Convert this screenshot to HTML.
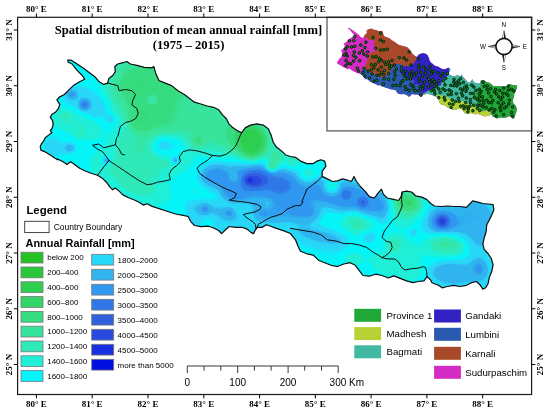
<!DOCTYPE html>
<html lang="en"><head><meta charset="utf-8"><title>Spatial distribution of mean annual rainfall</title>
<style>
html,body{margin:0;padding:0;background:#fff;}
body{width:550px;height:413px;overflow:hidden;}
svg{display:block;}
.ser{font-family:"Liberation Serif","Times New Roman",serif;font-weight:bold;fill:#000;}
.san{font-family:"Liberation Sans",Arial,sans-serif;fill:#000;}
.b{font-weight:bold;}
</style></head><body>
<svg width="550" height="413" viewBox="0 0 550 413">
<defs>
<path id="np" d="M67.7,60.2 L71.2,60.2 L77.1,64.0 L83.5,68.3 L89.8,72.9 L94.9,76.7 L99.2,81.8 L103.8,84.4 L107.6,83.1 L108.9,78.5 L112.7,75.5 L115.3,71.6 L114.8,66.5 L117.8,64.0 L122.9,62.7 L126.7,61.5 L130.5,64.0 L136.9,65.3 L144.5,67.3 L152.2,67.8 L153.8,66.5 L155.6,72.9 L158.9,80.5 L165.3,83.1 L171.6,85.6 L178.0,90.7 L184.4,94.5 L189.5,98.4 L194.5,102.2 L200.9,104.0 L207.3,106.0 L213.6,107.3 L218.7,109.8 L222.5,114.9 L226.4,118.7 L228.9,123.8 L232.7,127.6 L237.8,130.9 L241.6,132.7 L245.5,127.6 L250.5,125.1 L256.9,123.8 L263.3,125.1 L268.4,128.9 L271.3,135.6 L273.1,142.0 L276.4,147.1 L281.5,150.9 L285.3,154.7 L290.4,156.5 L295.5,157.3 L300.5,161.1 L306.9,163.6 L313.3,163.6 L317.1,161.1 L320.9,159.8 L324.7,161.1 L326.0,166.2 L322.2,171.3 L322.2,176.4 L327.3,178.9 L332.4,181.5 L337.5,180.9 L342.5,178.9 L347.6,180.2 L351.5,181.5 L354.0,176.4 L356.5,181.5 L360.4,186.5 L365.5,191.6 L369.3,196.7 L374.4,198.0 L378.2,192.9 L381.5,189.1 L383.3,194.2 L387.1,198.0 L393.5,199.3 L398.5,200.5 L401.1,196.7 L402.2,192.0 L406.5,191.2 L411.6,192.0 L415.5,195.8 L421.8,197.1 L426.9,199.6 L430.7,203.5 L434.5,206.0 L440.9,206.5 L447.3,206.0 L453.6,206.5 L460.0,206.5 L466.4,207.3 L470.2,203.5 L472.7,200.9 L477.8,202.2 L482.9,203.5 L488.0,204.0 L493.1,204.7 L493.9,209.8 L491.8,214.9 L489.3,220.0 L486.7,225.1 L486.2,231.5 L484.2,237.8 L482.9,244.2 L484.2,249.3 L488.0,253.5 L491.3,258.5 L493.1,264.9 L491.8,271.3 L489.3,277.6 L488.0,284.0 L485.5,287.8 L482.9,289.1 L480.4,285.3 L476.5,281.5 L471.5,282.7 L466.4,285.3 L460.0,286.5 L453.6,285.3 L447.3,286.5 L442.2,287.8 L438.4,285.3 L432.0,282.7 L430.5,279.9 L427.0,276.7 L424.0,280.9 L418.0,281.5 L412.9,282.7 L406.5,280.9 L400.2,278.4 L393.8,275.9 L388.4,278.0 L382.0,275.5 L375.6,274.2 L369.3,276.2 L362.9,275.5 L359.1,270.4 L355.3,265.3 L350.2,262.7 L343.8,264.0 L337.5,266.5 L331.1,265.3 L324.7,262.7 L318.4,260.2 L313.3,255.1 L306.9,253.8 L300.5,251.3 L298.0,246.2 L295.5,239.8 L290.4,233.5 L284.0,230.9 L276.4,228.4 L270.0,226.0 L266.2,224.7 L262.4,227.3 L257.3,227.3 L255.5,229.8 L253.5,233.6 L250.9,232.4 L247.1,229.1 L242.0,227.3 L235.6,227.3 L229.3,226.5 L225.5,229.8 L221.6,233.6 L218.7,230.5 L213.6,228.0 L208.5,226.2 L200.9,226.7 L194.5,225.5 L190.7,221.6 L188.2,216.5 L183.1,215.3 L175.5,214.0 L167.8,211.5 L152.2,206.4 L147.1,203.8 L143.3,205.1 L139.5,202.5 L134.4,200.0 L128.0,197.5 L122.9,194.9 L119.1,191.1 L115.3,188.0 L112.7,189.8 L110.2,187.3 L106.4,182.2 L102.5,178.4 L97.5,175.3 L91.1,173.3 L84.7,170.7 L79.6,168.2 L74.5,164.4 L70.7,161.8 L66.9,164.4 L63.1,161.8 L57.5,159.0 L57.6,159.8 L54.7,158.1 L51.8,155.9 L48.2,153.7 L44.5,151.6 L40.9,150.1 L40.2,146.5 L41.6,143.6 L43.8,140.7 L45.2,137.8 L48.9,134.9 L51.8,132.7 L50.3,130.5 L51.8,129.0 L53.2,124.7 L52.5,120.3 L50.3,117.4 L51.8,114.5 L55.4,112.3 L58.3,108.7 L59.8,104.4 L56.9,100.0 L59.3,97.1 L64.4,94.5 L68.2,90.7 L73.3,85.6 L79.6,81.8 L84.7,79.3 L82.2,75.5 L77.1,70.4 L72.0,64.0 L68.2,62.2Z"/>
<clipPath id="cp"><use href="#np"/></clipPath>
<filter id="b0" filterUnits="userSpaceOnUse" x="0" y="0" width="550" height="413" color-interpolation-filters="sRGB"><feGaussianBlur stdDeviation="9"/></filter>
<filter id="b1" filterUnits="userSpaceOnUse" x="0" y="0" width="550" height="413" color-interpolation-filters="sRGB"><feGaussianBlur stdDeviation="4.5"/></filter>
<filter id="b2" filterUnits="userSpaceOnUse" x="0" y="0" width="550" height="413" color-interpolation-filters="sRGB"><feGaussianBlur stdDeviation="2.2"/></filter>
<filter id="ramp" filterUnits="userSpaceOnUse" x="0" y="0" width="550" height="413" color-interpolation-filters="sRGB">
<feComponentTransfer>
<feFuncR type="table" tableValues="0.133 0.133 0.133 0.157 0.157 0.157 0.180 0.180 0.180 0.204 0.204 0.204 0.212 0.212 0.212 0.220 0.220 0.220 0.188 0.188 0.188 0.125 0.125 0.125 0.016 0.016 0.016 0.157 0.157 0.157 0.188 0.188 0.188 0.188 0.188 0.188 0.188 0.188 0.188 0.188 0.188 0.188 0.157 0.157 0.157 0.094 0.094 0.094 0.000 0.000 0.000"/>
<feFuncG type="table" tableValues="0.765 0.765 0.765 0.784 0.784 0.784 0.812 0.812 0.812 0.831 0.831 0.831 0.863 0.863 0.863 0.894 0.894 0.894 0.910 0.910 0.910 0.941 0.941 0.941 0.957 0.957 0.957 0.847 0.847 0.847 0.706 0.706 0.706 0.596 0.596 0.596 0.471 0.471 0.471 0.376 0.376 0.376 0.282 0.282 0.282 0.188 0.188 0.188 0.063 0.063 0.063"/>
<feFuncB type="table" tableValues="0.133 0.133 0.133 0.227 0.227 0.227 0.314 0.314 0.314 0.408 0.408 0.408 0.502 0.502 0.502 0.612 0.612 0.612 0.722 0.722 0.722 0.847 0.847 0.847 0.973 0.973 0.973 0.973 0.973 0.973 0.941 0.941 0.941 0.941 0.941 0.941 0.910 0.910 0.910 0.878 0.878 0.878 0.878 0.878 0.878 0.878 0.878 0.878 0.878 0.878 0.878"/>
</feComponentTransfer></filter>
</defs>
<rect width="550" height="413" fill="#fff"/>
<g clip-path="url(#cp)"><g filter="url(#ramp)">
<rect x="20" y="50" width="500" height="250" fill="#808080"/>
<g filter="url(#b0)"><ellipse cx="160" cy="95" rx="55" ry="38" fill="#454545" transform="rotate(25 160 95)"/>
<ellipse cx="60" cy="120" rx="40" ry="50" fill="#838383"/>
<ellipse cx="215" cy="120" rx="40" ry="30" fill="#525252" transform="rotate(30 215 120)"/>
<ellipse cx="205" cy="198" rx="45" ry="22" fill="#808080" transform="rotate(25 205 198)"/>
<ellipse cx="262" cy="182" rx="38" ry="20" fill="#b4b4b4" transform="rotate(15 262 182)"/>
<ellipse cx="330" cy="250" rx="50" ry="14" fill="#878787" transform="rotate(18 330 250)"/>
<ellipse cx="150" cy="150" rx="40" ry="16" fill="#565656" transform="rotate(15 150 150)"/>
<ellipse cx="130" cy="178" rx="44" ry="14" fill="#616161" transform="rotate(28 130 178)"/>
<ellipse cx="345" cy="222" rx="45" ry="12" fill="#787878" transform="rotate(15 345 222)"/>
<ellipse cx="480" cy="225" rx="18" ry="30" fill="#a1a1a1"/>
<ellipse cx="300" cy="190" rx="30" ry="16" fill="#adadad" transform="rotate(20 300 190)"/>
<ellipse cx="350" cy="198" rx="36" ry="12" fill="#adadad" transform="rotate(15 350 198)"/>
<ellipse cx="275" cy="205" rx="30" ry="14" fill="#a6a6a6" transform="rotate(20 275 205)"/>
<ellipse cx="460" cy="275" rx="32" ry="12" fill="#a1a1a1"/>
<ellipse cx="250" cy="140" rx="20" ry="18" fill="#2b2b2b"/>
<ellipse cx="445" cy="222" rx="20" ry="14" fill="#b5b5b5"/>
<ellipse cx="405" cy="255" rx="14" ry="18" fill="#707070"/>
<ellipse cx="445" cy="246" rx="22" ry="9" fill="#616161"/>
<ellipse cx="405" cy="205" rx="14" ry="14" fill="#424242"/></g>
<g filter="url(#b1)"><ellipse cx="350" cy="198" rx="42" ry="13" fill="#adadad" transform="rotate(14 350 198)"/>
<ellipse cx="296" cy="207" rx="26" ry="13" fill="#aaaaaa" transform="rotate(20 296 207)"/>
<ellipse cx="86" cy="103" rx="24" ry="14" fill="#8f8f8f" transform="rotate(25 86 103)"/>
<ellipse cx="74" cy="123" rx="30" ry="11" fill="#696969" transform="rotate(24 74 123)"/>
<ellipse cx="396" cy="266" rx="28" ry="11" fill="#6c6c6c" transform="rotate(15 396 266)"/>
<ellipse cx="215" cy="212" rx="30" ry="9" fill="#9b9b9b" transform="rotate(12 215 212)"/>
<ellipse cx="225" cy="225" rx="40" ry="6" fill="#929292" transform="rotate(8 225 225)"/>
<ellipse cx="320" cy="236" rx="28" ry="8" fill="#9e9e9e" transform="rotate(14 320 236)"/>
<ellipse cx="252" cy="142" rx="13" ry="16" fill="#242424"/>
<ellipse cx="168" cy="147" rx="18" ry="11" fill="#868686"/>
<ellipse cx="216" cy="176" rx="16" ry="12" fill="#adadad"/>
<ellipse cx="141" cy="118" rx="13" ry="14" fill="#3c3c3c"/>
<ellipse cx="272" cy="212" rx="18" ry="10" fill="#a7a7a7"/>
<ellipse cx="236" cy="192" rx="16" ry="10" fill="#b2b2b2"/>
<ellipse cx="280" cy="185" rx="14" ry="11" fill="#bababa"/>
<ellipse cx="450" cy="272" rx="18" ry="8" fill="#a4a4a4"/>
<ellipse cx="470" cy="215" rx="14" ry="10" fill="#a4a4a4"/>
<ellipse cx="359" cy="224" rx="16" ry="8" fill="#656565" transform="rotate(15 359 224)"/>
<ellipse cx="135" cy="185" rx="14" ry="8" fill="#616161" transform="rotate(25 135 185)"/>
<ellipse cx="256" cy="180" rx="13" ry="8.5" fill="#d5d5d5"/>
<ellipse cx="139" cy="86" rx="12" ry="9" fill="#3b3b3b"/>
<ellipse cx="443.5" cy="244" rx="14" ry="7" fill="#525252"/>
<ellipse cx="54" cy="147" rx="11" ry="8" fill="#8f8f8f" transform="rotate(30 54 147)"/>
<ellipse cx="479" cy="268.7" rx="8" ry="10" fill="#adadad"/>
<ellipse cx="276" cy="157" rx="8" ry="9" fill="#4a4a4a"/>
<ellipse cx="354" cy="259" rx="12" ry="6" fill="#696969"/>
<ellipse cx="442.2" cy="221.2" rx="9" ry="8" fill="#c4c4c4"/>
<ellipse cx="402" cy="200" rx="8" ry="8" fill="#3b3b3b"/>
<ellipse cx="411.6" cy="204" rx="8" ry="7" fill="#333333"/>
<ellipse cx="455" cy="247" rx="9" ry="6" fill="#555555"/>
<ellipse cx="394.7" cy="244" rx="7" ry="7" fill="#525252"/>
<ellipse cx="155" cy="173" rx="8" ry="6" fill="#656565"/>
<ellipse cx="354" cy="218" rx="8" ry="6" fill="#616161"/>
<ellipse cx="198" cy="141" rx="7" ry="6" fill="#383838"/>
<ellipse cx="195.8" cy="191" rx="7" ry="6" fill="#737373"/>
<ellipse cx="410" cy="276" rx="8" ry="5" fill="#707070"/>
<ellipse cx="379.5" cy="196" rx="6" ry="6" fill="#a6a6a6"/>
<ellipse cx="308" cy="174" rx="7" ry="5" fill="#595959"/>
<ellipse cx="359" cy="227" rx="7" ry="5" fill="#595959"/>
<ellipse cx="162.5" cy="142" rx="6" ry="5" fill="#969696"/>
<ellipse cx="259.5" cy="216.5" rx="6" ry="5" fill="#adadad"/>
<ellipse cx="293" cy="161" rx="6" ry="5" fill="#4a4a4a"/>
<ellipse cx="332" cy="186.5" rx="6" ry="5" fill="#4a4a4a"/>
<ellipse cx="369" cy="236" rx="6" ry="5" fill="#a6a6a6"/>
<ellipse cx="383" cy="218" rx="6" ry="5" fill="#9e9e9e"/>
<ellipse cx="208.5" cy="221" rx="6" ry="4" fill="#707070"/></g>
<g filter="url(#b2)"><ellipse cx="84.7" cy="104.7" rx="5.5" ry="5.5" fill="#bababa"/>
<ellipse cx="254" cy="181" rx="7" ry="4" fill="#e0e0e0"/>
<ellipse cx="346.3" cy="194.7" rx="5" ry="5" fill="#c1c1c1"/>
<ellipse cx="362.9" cy="202.3" rx="5" ry="5" fill="#c9c9c9"/>
<ellipse cx="72" cy="94.5" rx="5.5" ry="4.5" fill="#adadad"/>
<ellipse cx="205" cy="209" rx="5" ry="4.5" fill="#adadad"/>
<ellipse cx="229" cy="213" rx="5" ry="4.5" fill="#adadad"/>
<ellipse cx="69.4" cy="148" rx="5" ry="4" fill="#aaaaaa"/>
<ellipse cx="272" cy="166" rx="5" ry="4" fill="#454545"/>
<ellipse cx="110.2" cy="118.7" rx="4" ry="4" fill="#9b9b9b"/>
<ellipse cx="91" cy="126.3" rx="4" ry="4" fill="#707070"/>
<ellipse cx="152" cy="99.6" rx="4" ry="4" fill="#616161"/>
<ellipse cx="442.2" cy="221.5" rx="4" ry="4" fill="#ebebeb"/>
<ellipse cx="175.4" cy="160.5" rx="3.5" ry="3.5" fill="#b5b5b5"/>
<ellipse cx="413" cy="232.7" rx="3.5" ry="3.5" fill="#9e9e9e"/>
<ellipse cx="106.3" cy="160.5" rx="3.5" ry="3.5" fill="#b5b5b5"/>
<ellipse cx="66.3" cy="115.2" rx="3.5" ry="3" fill="#616161"/>
<ellipse cx="80.1" cy="135.6" rx="3.5" ry="3" fill="#5e5e5e"/>
<ellipse cx="267.3" cy="203.6" rx="3" ry="3" fill="#898989"/>
<ellipse cx="234.5" cy="177.3" rx="3" ry="3" fill="#929292"/>
<ellipse cx="248.5" cy="180" rx="3" ry="2.5" fill="#fafafa"/></g>
</g></g>
<g fill="none" stroke="#0c0c0c" stroke-width="1.0" stroke-linejoin="round" stroke-linecap="round">
<path d="M107.6,83.1 L117.8,85.6 L119.1,90.7 L125.5,89.5 L131.8,90.7 L135.6,94.5 L133.1,99.6 L131.8,104.7 L136.9,108.5 L138.2,113.6 L135.6,118.7 L130.5,121.3 L125.5,122.5 L120.4,126.4 L119.1,131.5 L117.8,136.5 L116.5,137.6 L115.3,144.8 L108.9,146.5 L103.8,147.8 L98.7,144.0 L92.4,145.3 L97.5,149.1 L102.5,151.6 L106.4,156.7 L108.9,160.5"/>
<path d="M115.3,144.8 L119.1,149.1 L121.6,154.2 L124.7,154.9"/>
<path d="M97.5,175.3 L103.8,166.9 L108.9,160.5"/>
<path d="M108.9,160.5 L116.5,165.6 L124.2,170.7 L131.8,175.8 L139.5,180.9 L147.1,184.7 L152.2,184.0 L157.6,182.2 L165.3,180.9 L170.4,179.6 L169.1,174.5 L171.6,169.5 L176.7,165.6 L180.5,161.8 L179.3,156.7 L183.1,151.6 L189.5,149.9 L197.1,150.9 L204.7,152.9 L212.4,155.5"/>
<path d="M212.4,155.5 L220.0,156.2 L226.4,154.2 L231.5,150.4 L235.3,146.5 L237.8,141.5 L240.4,135.1 L241.6,132.7"/>
<path d="M212.4,155.5 L207.3,160.5 L200.9,164.4 L197.1,168.2 L199.6,173.3 L204.7,177.1 L211.1,180.9 L217.5,184.7 L225.1,188.5 L231.5,191.1 L236.5,193.6 L234.4,198.0 L229.3,200.0 L235.6,201.1 L243.3,201.8 L250.9,203.1 L257.3,204.4 L261.1,206.9 L259.8,209.5 L254.7,212.0 L248.4,213.3 L243.3,214.5 L245.8,217.1 L249.6,219.6 L253.5,222.2 L255.5,224.7 L256.0,228.5"/>
<path d="M322.2,176.4 L317.1,181.5 L312.0,185.3 L306.9,189.1 L304.4,195.5 L301.8,201.8 L303.1,201.8 L300.5,205.6 L295.5,205.6 L290.4,207.7 L286.5,209.5 L282.7,213.3 L277.6,215.3 L271.3,217.1 L266.2,219.6 L262.4,222.2 L258.5,224.0 L257.0,228.0"/>
<path d="M290.4,228.4 L298.0,229.6 L305.6,230.9 L313.3,232.2 L320.9,234.7 L327.3,239.8 L336.2,241.1 L343.8,243.6 L351.5,243.6 L359.1,244.9 L366.7,247.5 L371.8,251.3 L378.2,255.1 L382.0,257.6 L387.1,258.9 L392.2,258.9 L395.1,259.1 L398.9,262.4 L401.5,267.5 L405.3,270.0 L411.6,268.7 L418.0,268.2 L423.1,266.7 L425.6,267.5 L426.7,271.8 L427.0,276.7"/>
<path d="M402.2,192.0 L401.5,199.6 L402.2,206.0 L399.8,211.8 L397.3,216.9 L392.2,220.7 L388.4,225.8 L384.5,230.9 L382.0,237.3 L385.8,241.1 L390.9,242.4 L392.2,247.5 L389.6,252.5 L384.5,256.4 L382.0,257.6"/>
<use href="#np" stroke-width="1.2"/>
</g>
<rect x="327" y="17.3" width="204.60000000000002" height="113.60000000000001" fill="#fff" stroke="#7a7a7a" stroke-width="1.6"/>
<g transform="translate(321.1 4.2) scale(0.397)"><g clip-path="url(#cp)">
<rect x="20" y="50" width="500" height="250" fill="#d22cc4"/>
<path d="M107.6,83.1 L117.8,85.6 L119.1,90.7 L125.5,89.5 L131.8,90.7 L135.6,94.5 L133.1,99.6 L131.8,104.7 L136.9,108.5 L138.2,113.6 L135.6,118.7 L130.5,121.3 L125.5,122.5 L120.4,126.4 L119.1,131.5 L117.8,136.5 L116.5,137.6 L115.3,144.8 L108.9,160.5 L108.9,160.5 L116.5,165.6 L124.2,170.7 L131.8,175.8 L139.5,180.9 L147.1,184.7 L152.2,184.0 L157.6,182.2 L165.3,180.9 L170.4,179.6 L169.1,174.5 L171.6,169.5 L176.7,165.6 L180.5,161.8 L179.3,156.7 L183.1,151.6 L189.5,149.9 L197.1,150.9 L204.7,152.9 L212.4,155.5 L212.4,155.5 L220.0,156.2 L226.4,154.2 L231.5,150.4 L235.3,146.5 L237.8,141.5 L240.4,135.1 L241.6,132.7 L241.0,40.0 L107.0,40.0Z" fill="#a84a2a"/>
<path d="M97.5,175.3 L103.8,166.9 L108.9,160.5 L108.9,160.5 L116.5,165.6 L124.2,170.7 L131.8,175.8 L139.5,180.9 L147.1,184.7 L152.2,184.0 L157.6,182.2 L165.3,180.9 L170.4,179.6 L169.1,174.5 L171.6,169.5 L176.7,165.6 L180.5,161.8 L179.3,156.7 L183.1,151.6 L189.5,149.9 L197.1,150.9 L204.7,152.9 L212.4,155.5 L212.4,155.5 L207.3,160.5 L200.9,164.4 L197.1,168.2 L199.6,173.3 L204.7,177.1 L211.1,180.9 L217.5,184.7 L225.1,188.5 L231.5,191.1 L236.5,193.6 L234.4,198.0 L229.3,200.0 L235.6,201.1 L243.3,201.8 L250.9,203.1 L257.3,204.4 L261.1,206.9 L259.8,209.5 L254.7,212.0 L248.4,213.3 L243.3,214.5 L245.8,217.1 L249.6,219.6 L253.5,222.2 L255.5,224.7 L256.0,228.5 L256.0,270.0 L97.0,270.0Z" fill="#2a5ab0"/>
<path d="M241.6,132.7 L240.4,135.1 L237.8,141.5 L235.3,146.5 L231.5,150.4 L226.4,154.2 L220.0,156.2 L212.4,155.5 L212.4,155.5 L207.3,160.5 L200.9,164.4 L197.1,168.2 L199.6,173.3 L204.7,177.1 L211.1,180.9 L217.5,184.7 L225.1,188.5 L231.5,191.1 L236.5,193.6 L234.4,198.0 L229.3,200.0 L235.6,201.1 L243.3,201.8 L250.9,203.1 L257.3,204.4 L261.1,206.9 L259.8,209.5 L254.7,212.0 L248.4,213.3 L243.3,214.5 L245.8,217.1 L249.6,219.6 L253.5,222.2 L255.5,224.7 L256.0,228.5 L257.0,228.0 L258.5,224.0 L262.4,222.2 L266.2,219.6 L271.3,217.1 L277.6,215.3 L282.7,213.3 L286.5,209.5 L290.4,207.7 L295.5,205.6 L300.5,205.6 L303.1,201.8 L301.8,201.8 L304.4,195.5 L306.9,189.1 L312.0,185.3 L317.1,181.5 L322.2,176.4 L322.0,110.0 L241.0,110.0Z" fill="#3222c4"/>
<path d="M402.2,192.0 L401.5,199.6 L402.2,206.0 L399.8,211.8 L397.3,216.9 L392.2,220.7 L388.4,225.8 L384.5,230.9 L382.0,237.3 L385.8,241.1 L390.9,242.4 L392.2,247.5 L389.6,252.5 L384.5,256.4 L382.0,257.6 L382.0,257.6 L387.1,258.9 L392.2,258.9 L395.1,259.1 L398.9,262.4 L401.5,267.5 L405.3,270.0 L411.6,268.7 L418.0,268.2 L423.1,266.7 L425.6,267.5 L426.7,271.8 L427.0,276.7 L427.0,310.0 L520.0,310.0 L520.0,150.0 L402.0,150.0Z" fill="#22a838"/>
<path d="M322.2,176.4 L317.1,181.5 L312.0,185.3 L306.9,189.1 L304.4,195.5 L301.8,201.8 L303.1,201.8 L300.5,205.6 L295.5,205.6 L290.4,207.7 L286.5,209.5 L282.7,213.3 L277.6,215.3 L271.3,217.1 L266.2,219.6 L262.4,222.2 L258.5,224.0 L257.0,228.0 L257.0,310.0 L382.0,310.0 L382.0,257.6 L382.0,257.6 L384.5,256.4 L389.6,252.5 L392.2,247.5 L390.9,242.4 L385.8,241.1 L382.0,237.3 L384.5,230.9 L388.4,225.8 L392.2,220.7 L397.3,216.9 L399.8,211.8 L402.2,206.0 L401.5,199.6 L402.2,192.0 L402.0,150.0 L322.0,150.0Z" fill="#40b8a2"/>
<path d="M290.4,228.4 L298.0,229.6 L305.6,230.9 L313.3,232.2 L320.9,234.7 L327.3,239.8 L336.2,241.1 L343.8,243.6 L351.5,243.6 L359.1,244.9 L366.7,247.5 L371.8,251.3 L378.2,255.1 L382.0,257.6 L387.1,258.9 L392.2,258.9 L395.1,259.1 L398.9,262.4 L401.5,267.5 L405.3,270.0 L411.6,268.7 L418.0,268.2 L423.1,266.7 L425.6,267.5 L426.7,271.8 L427.0,276.7 L427.0,310.0 L290.0,310.0Z" fill="#b6d234"/>
</g></g>
<g fill="#0f8a1e" stroke="#061206" stroke-width="0.9">
<circle cx="441.0" cy="76.0" r="1.3"/>
<circle cx="363.1" cy="72.6" r="1.3"/>
<circle cx="458.4" cy="98.3" r="1.3"/>
<circle cx="463.4" cy="82.4" r="1.3"/>
<circle cx="464.5" cy="87.3" r="1.3"/>
<circle cx="406.2" cy="89.3" r="1.3"/>
<circle cx="486.2" cy="107.5" r="1.3"/>
<circle cx="424.5" cy="82.0" r="1.3"/>
<circle cx="449.0" cy="90.0" r="1.3"/>
<circle cx="501.1" cy="99.7" r="1.3"/>
<circle cx="347.4" cy="46.6" r="1.3"/>
<circle cx="353.7" cy="61.0" r="1.3"/>
<circle cx="362.4" cy="50.7" r="1.3"/>
<circle cx="421.0" cy="72.2" r="1.3"/>
<circle cx="494.4" cy="91.9" r="1.3"/>
<circle cx="483.8" cy="103.2" r="1.3"/>
<circle cx="376.9" cy="75.3" r="1.3"/>
<circle cx="375.7" cy="48.3" r="1.3"/>
<circle cx="501.2" cy="105.3" r="1.3"/>
<circle cx="455.5" cy="101.5" r="1.3"/>
<circle cx="479.4" cy="96.9" r="1.3"/>
<circle cx="419.6" cy="81.4" r="1.3"/>
<circle cx="427.6" cy="76.6" r="1.3"/>
<circle cx="395.2" cy="75.4" r="1.3"/>
<circle cx="428.7" cy="79.4" r="1.3"/>
<circle cx="433.4" cy="71.6" r="1.3"/>
<circle cx="464.1" cy="108.7" r="1.3"/>
<circle cx="357.4" cy="68.3" r="1.3"/>
<circle cx="479.7" cy="110.6" r="1.3"/>
<circle cx="467.2" cy="88.6" r="1.3"/>
<circle cx="414.7" cy="75.1" r="1.3"/>
<circle cx="396.2" cy="85.2" r="1.3"/>
<circle cx="354.3" cy="51.9" r="1.3"/>
<circle cx="440.3" cy="92.3" r="1.3"/>
<circle cx="508.2" cy="86.2" r="1.3"/>
<circle cx="388.5" cy="73.7" r="1.3"/>
<circle cx="488.6" cy="92.9" r="1.3"/>
<circle cx="495.7" cy="89.5" r="1.3"/>
<circle cx="364.1" cy="68.6" r="1.3"/>
<circle cx="392.1" cy="60.4" r="1.3"/>
<circle cx="405.4" cy="71.3" r="1.3"/>
<circle cx="372.1" cy="74.1" r="1.3"/>
<circle cx="456.4" cy="93.7" r="1.3"/>
<circle cx="489.2" cy="110.1" r="1.3"/>
<circle cx="470.5" cy="102.7" r="1.3"/>
<circle cx="431.7" cy="74.1" r="1.3"/>
<circle cx="499.8" cy="90.7" r="1.3"/>
<circle cx="359.6" cy="60.7" r="1.3"/>
<circle cx="450.9" cy="85.4" r="1.3"/>
<circle cx="482.3" cy="96.7" r="1.3"/>
<circle cx="433.8" cy="88.5" r="1.3"/>
<circle cx="349.3" cy="40.9" r="1.3"/>
<circle cx="462.8" cy="90.0" r="1.3"/>
<circle cx="430.4" cy="70.4" r="1.3"/>
<circle cx="373.9" cy="81.2" r="1.3"/>
<circle cx="425.8" cy="69.1" r="1.3"/>
<circle cx="473.6" cy="105.2" r="1.3"/>
<circle cx="506.0" cy="93.5" r="1.3"/>
<circle cx="388.5" cy="61.8" r="1.3"/>
<circle cx="401.6" cy="67.0" r="1.3"/>
<circle cx="384.0" cy="74.7" r="1.3"/>
<circle cx="498.2" cy="102.7" r="1.3"/>
<circle cx="503.6" cy="114.6" r="1.3"/>
<circle cx="473.9" cy="87.1" r="1.3"/>
<circle cx="358.5" cy="71.1" r="1.3"/>
<circle cx="365.9" cy="42.2" r="1.3"/>
<circle cx="360.8" cy="45.1" r="1.3"/>
<circle cx="498.8" cy="96.9" r="1.3"/>
<circle cx="411.4" cy="75.9" r="1.3"/>
<circle cx="451.2" cy="107.4" r="1.3"/>
<circle cx="491.7" cy="108.3" r="1.3"/>
<circle cx="431.4" cy="90.6" r="1.3"/>
<circle cx="419.4" cy="78.5" r="1.3"/>
<circle cx="404.0" cy="58.0" r="1.3"/>
<circle cx="472.9" cy="110.7" r="1.3"/>
<circle cx="381.3" cy="67.2" r="1.3"/>
<circle cx="380.6" cy="33.2" r="1.3"/>
<circle cx="380.7" cy="50.0" r="1.3"/>
<circle cx="445.0" cy="84.8" r="1.3"/>
<circle cx="436.8" cy="86.7" r="1.3"/>
<circle cx="403.5" cy="74.1" r="1.3"/>
<circle cx="449.5" cy="103.8" r="1.3"/>
<circle cx="375.3" cy="64.4" r="1.3"/>
<circle cx="438.8" cy="97.6" r="1.3"/>
<circle cx="445.7" cy="78.3" r="1.3"/>
<circle cx="391.5" cy="66.2" r="1.3"/>
<circle cx="413.6" cy="88.4" r="1.3"/>
<circle cx="368.1" cy="71.2" r="1.3"/>
<circle cx="470.4" cy="99.5" r="1.3"/>
<circle cx="511.6" cy="112.3" r="1.3"/>
<circle cx="443.1" cy="88.9" r="1.3"/>
<circle cx="409.2" cy="51.8" r="1.3"/>
<circle cx="454.1" cy="79.5" r="1.3"/>
<circle cx="508.0" cy="95.4" r="1.3"/>
<circle cx="428.6" cy="86.8" r="1.3"/>
<circle cx="367.2" cy="56.0" r="1.3"/>
<circle cx="479.5" cy="93.7" r="1.3"/>
<circle cx="490.9" cy="96.5" r="1.3"/>
<circle cx="463.3" cy="105.8" r="1.3"/>
<circle cx="384.1" cy="78.7" r="1.3"/>
<circle cx="451.4" cy="91.6" r="1.3"/>
<circle cx="373.0" cy="37.6" r="1.3"/>
<circle cx="491.5" cy="102.7" r="1.3"/>
<circle cx="487.3" cy="85.9" r="1.3"/>
<circle cx="372.8" cy="56.9" r="1.3"/>
<circle cx="425.6" cy="72.9" r="1.3"/>
<circle cx="378.1" cy="70.0" r="1.3"/>
<circle cx="474.3" cy="97.2" r="1.3"/>
<circle cx="399.3" cy="57.6" r="1.3"/>
<circle cx="490.6" cy="88.7" r="1.3"/>
<circle cx="354.7" cy="46.4" r="1.3"/>
<circle cx="468.3" cy="109.0" r="1.3"/>
<circle cx="392.8" cy="85.6" r="1.3"/>
<circle cx="466.6" cy="85.7" r="1.3"/>
<circle cx="434.9" cy="93.9" r="1.3"/>
<circle cx="453.0" cy="104.2" r="1.3"/>
<circle cx="385.6" cy="64.4" r="1.3"/>
<circle cx="484.4" cy="86.2" r="1.3"/>
<circle cx="384.4" cy="62.2" r="1.3"/>
<circle cx="423.5" cy="67.0" r="1.3"/>
<circle cx="506.4" cy="106.6" r="1.3"/>
<circle cx="353.7" cy="40.5" r="1.3"/>
<circle cx="479.2" cy="89.3" r="1.3"/>
<circle cx="480.5" cy="105.1" r="1.3"/>
<circle cx="438.8" cy="89.0" r="1.3"/>
<circle cx="422.6" cy="76.0" r="1.3"/>
<circle cx="373.9" cy="67.7" r="1.3"/>
<circle cx="409.5" cy="74.0" r="1.3"/>
<circle cx="452.2" cy="100.1" r="1.3"/>
<circle cx="344.2" cy="55.1" r="1.3"/>
<circle cx="445.1" cy="90.5" r="1.3"/>
<circle cx="503.7" cy="88.1" r="1.3"/>
<circle cx="486.9" cy="100.3" r="1.3"/>
<circle cx="466.7" cy="106.7" r="1.3"/>
<circle cx="402.8" cy="80.6" r="1.3"/>
<circle cx="454.0" cy="85.7" r="1.3"/>
<circle cx="509.4" cy="100.1" r="1.3"/>
<circle cx="488.8" cy="102.6" r="1.3"/>
<circle cx="511.6" cy="89.4" r="1.3"/>
<circle cx="508.4" cy="90.1" r="1.3"/>
<circle cx="444.2" cy="97.6" r="1.3"/>
<circle cx="495.0" cy="109.8" r="1.3"/>
<circle cx="423.2" cy="85.6" r="1.3"/>
<circle cx="447.3" cy="73.3" r="1.3"/>
<circle cx="465.7" cy="102.6" r="1.3"/>
<circle cx="496.1" cy="115.9" r="1.3"/>
<circle cx="379.4" cy="58.4" r="1.3"/>
<circle cx="503.5" cy="102.9" r="1.3"/>
<circle cx="412.9" cy="86.0" r="1.3"/>
<circle cx="384.5" cy="70.6" r="1.3"/>
<circle cx="389.2" cy="65.0" r="1.3"/>
<circle cx="436.2" cy="84.2" r="1.3"/>
<circle cx="437.8" cy="72.9" r="1.3"/>
<circle cx="443.1" cy="73.5" r="1.3"/>
<circle cx="407.1" cy="78.8" r="1.3"/>
<circle cx="401.0" cy="82.5" r="1.3"/>
<circle cx="438.6" cy="80.6" r="1.3"/>
<circle cx="363.9" cy="54.2" r="1.3"/>
<circle cx="354.7" cy="36.5" r="1.3"/>
<circle cx="388.7" cy="79.4" r="1.3"/>
<circle cx="387.3" cy="49.3" r="1.3"/>
<circle cx="347.2" cy="56.1" r="1.3"/>
<circle cx="359.4" cy="52.9" r="1.3"/>
<circle cx="460.5" cy="88.9" r="1.3"/>
<circle cx="400.0" cy="85.6" r="1.3"/>
<circle cx="470.5" cy="93.4" r="1.3"/>
<circle cx="415.3" cy="90.8" r="1.3"/>
<circle cx="462.7" cy="95.8" r="1.3"/>
<circle cx="346.0" cy="60.5" r="1.3"/>
<circle cx="379.6" cy="75.1" r="1.3"/>
<circle cx="346.1" cy="53.3" r="1.3"/>
<circle cx="355.9" cy="57.4" r="1.3"/>
<circle cx="380.4" cy="40.1" r="1.3"/>
<circle cx="478.0" cy="105.2" r="1.3"/>
<circle cx="492.9" cy="100.3" r="1.3"/>
<circle cx="430.0" cy="66.4" r="1.3"/>
<circle cx="389.6" cy="68.4" r="1.3"/>
<circle cx="459.9" cy="83.8" r="1.3"/>
<circle cx="432.8" cy="79.7" r="1.3"/>
<circle cx="381.4" cy="72.7" r="1.3"/>
<circle cx="376.8" cy="80.4" r="1.3"/>
<circle cx="429.7" cy="81.9" r="1.3"/>
<circle cx="378.7" cy="61.8" r="1.3"/>
<circle cx="504.4" cy="108.1" r="1.3"/>
<circle cx="476.0" cy="90.4" r="1.3"/>
<circle cx="434.4" cy="91.3" r="1.3"/>
<circle cx="401.6" cy="70.7" r="1.3"/>
<circle cx="406.6" cy="60.1" r="1.3"/>
<circle cx="477.3" cy="108.3" r="1.3"/>
<circle cx="418.6" cy="68.6" r="1.3"/>
<circle cx="345.6" cy="65.7" r="1.3"/>
<circle cx="448.3" cy="94.5" r="1.3"/>
<circle cx="434.4" cy="81.9" r="1.3"/>
<circle cx="456.3" cy="83.1" r="1.3"/>
<circle cx="466.3" cy="98.1" r="1.3"/>
<circle cx="422.8" cy="88.1" r="1.3"/>
<circle cx="481.2" cy="91.3" r="1.3"/>
<circle cx="367.7" cy="51.8" r="1.3"/>
<circle cx="410.3" cy="78.9" r="1.3"/>
<circle cx="496.4" cy="93.9" r="1.3"/>
<circle cx="432.1" cy="84.2" r="1.3"/>
<circle cx="420.0" cy="86.7" r="1.3"/>
<circle cx="500.0" cy="107.8" r="1.3"/>
<circle cx="405.0" cy="76.1" r="1.3"/>
<circle cx="416.2" cy="72.9" r="1.3"/>
<circle cx="487.2" cy="89.5" r="1.3"/>
<circle cx="460.5" cy="78.7" r="1.3"/>
<circle cx="483.0" cy="106.8" r="1.3"/>
<circle cx="483.1" cy="82.2" r="1.3"/>
<circle cx="393.8" cy="79.3" r="1.3"/>
<circle cx="405.1" cy="86.8" r="1.3"/>
<circle cx="420.7" cy="94.9" r="1.3"/>
<circle cx="396.5" cy="69.0" r="1.3"/>
<circle cx="371.5" cy="64.7" r="1.3"/>
<circle cx="444.9" cy="100.1" r="1.3"/>
<circle cx="411.0" cy="65.0" r="1.3"/>
<circle cx="502.6" cy="97.0" r="1.3"/>
<circle cx="371.5" cy="69.8" r="1.3"/>
<circle cx="461.5" cy="93.2" r="1.3"/>
<circle cx="479.7" cy="101.0" r="1.3"/>
<circle cx="508.8" cy="103.9" r="1.3"/>
<circle cx="364.9" cy="76.2" r="1.3"/>
<circle cx="381.3" cy="60.0" r="1.3"/>
<circle cx="457.0" cy="85.9" r="1.3"/>
<circle cx="443.5" cy="80.8" r="1.3"/>
<circle cx="466.0" cy="91.4" r="1.3"/>
<circle cx="384.0" cy="49.8" r="1.3"/>
<circle cx="458.3" cy="80.9" r="1.3"/>
<circle cx="500.8" cy="110.7" r="1.3"/>
<circle cx="451.3" cy="94.5" r="1.3"/>
<circle cx="418.8" cy="90.6" r="1.3"/>
<circle cx="418.9" cy="59.0" r="1.3"/>
<circle cx="502.8" cy="93.2" r="1.3"/>
<circle cx="383.5" cy="41.5" r="1.3"/>
<circle cx="469.8" cy="106.2" r="1.3"/>
<circle cx="419.1" cy="65.1" r="1.3"/>
<circle cx="460.7" cy="106.2" r="1.3"/>
<circle cx="477.2" cy="99.2" r="1.3"/>
<circle cx="351.5" cy="47.0" r="1.3"/>
<circle cx="453.8" cy="82.1" r="1.3"/>
<circle cx="514.0" cy="91.1" r="1.3"/>
<circle cx="353.5" cy="55.4" r="1.3"/>
<circle cx="512.7" cy="106.9" r="1.3"/>
<circle cx="409.2" cy="90.3" r="1.3"/>
<circle cx="394.4" cy="65.0" r="1.3"/>
<circle cx="345.5" cy="49.0" r="1.3"/>
<circle cx="471.8" cy="85.2" r="1.3"/>
<circle cx="459.1" cy="101.5" r="1.3"/>
<circle cx="412.0" cy="71.7" r="1.3"/>
<circle cx="347.9" cy="63.2" r="1.3"/>
<circle cx="376.0" cy="56.8" r="1.3"/>
<circle cx="350.8" cy="63.8" r="1.3"/>
<circle cx="369.5" cy="78.0" r="1.3"/>
<circle cx="473.3" cy="93.4" r="1.3"/>
<circle cx="410.7" cy="84.7" r="1.3"/>
<circle cx="364.9" cy="47.5" r="1.3"/>
<circle cx="394.7" cy="71.8" r="1.3"/>
<circle cx="467.9" cy="111.8" r="1.3"/>
<circle cx="493.6" cy="112.2" r="1.3"/>
<circle cx="483.1" cy="100.2" r="1.3"/>
<circle cx="512.2" cy="116.0" r="1.3"/>
<circle cx="383.4" cy="84.0" r="1.3"/>
</g>
<g><g transform="rotate(0 504.0 46.5)"><path d="M504.0,30.5 L505.9,39.0 L502.1,39.0Z" fill="#fff" stroke="#222" stroke-width="0.5"/><path d="M504.0,30.5 L505.9,39.0 L504.0,39.0Z" fill="#222"/></g><g transform="rotate(90 504.0 46.5)"><path d="M504.0,30.5 L505.9,39.0 L502.1,39.0Z" fill="#fff" stroke="#222" stroke-width="0.5"/><path d="M504.0,30.5 L505.9,39.0 L504.0,39.0Z" fill="#222"/></g><g transform="rotate(180 504.0 46.5)"><path d="M504.0,30.5 L505.9,39.0 L502.1,39.0Z" fill="#fff" stroke="#222" stroke-width="0.5"/><path d="M504.0,30.5 L505.9,39.0 L504.0,39.0Z" fill="#222"/></g><g transform="rotate(270 504.0 46.5)"><path d="M504.0,30.5 L505.9,39.0 L502.1,39.0Z" fill="#fff" stroke="#222" stroke-width="0.5"/><path d="M504.0,30.5 L505.9,39.0 L504.0,39.0Z" fill="#222"/></g>
<circle cx="504.0" cy="46.5" r="8.1" fill="#fff" stroke="#111" stroke-width="1.6"/>
<text class="san" font-size="6.3" text-anchor="middle" x="503.8" y="26.7">N</text>
<text class="san" font-size="6.3" text-anchor="middle" x="503.8" y="70.2">S</text>
<text class="san" font-size="6.3" text-anchor="middle" x="483.0" y="48.8">W</text>
<text class="san" font-size="6.3" text-anchor="middle" x="524.9" y="48.8">E</text>
</g>
<rect x="17.6" y="17.3" width="514.0" height="377.2" fill="none" stroke="#1a1a1a" stroke-width="1.2"/>
<path d="M36.4,13.5V17.3 M36.4,394.5V398.3 M92.2,13.5V17.3 M92.2,394.5V398.3 M148.0,13.5V17.3 M148.0,394.5V398.3 M203.8,13.5V17.3 M203.8,394.5V398.3 M259.6,13.5V17.3 M259.6,394.5V398.3 M315.3,13.5V17.3 M315.3,394.5V398.3 M371.1,13.5V17.3 M371.1,394.5V398.3 M426.9,13.5V17.3 M426.9,394.5V398.3 M482.7,13.5V17.3 M482.7,394.5V398.3 M13.8,30.0H17.6 M531.6,30.0H535.4 M13.8,85.75H17.6 M531.6,85.75H535.4 M13.8,141.5H17.6 M531.6,141.5H535.4 M13.8,197.25H17.6 M531.6,197.25H535.4 M13.8,253.0H17.6 M531.6,253.0H535.4 M13.8,308.75H17.6 M531.6,308.75H535.4 M13.8,364.5H17.6 M531.6,364.5H535.4" stroke="#000" stroke-width="1" fill="none"/>
<g class="ser" font-size="9" text-anchor="middle">
<text x="36.4" y="11.7">80° E</text><text x="36.4" y="406.8">80° E</text>
<text x="92.2" y="11.7">81° E</text><text x="92.2" y="406.8">81° E</text>
<text x="148.0" y="11.7">82° E</text><text x="148.0" y="406.8">82° E</text>
<text x="203.8" y="11.7">83° E</text><text x="203.8" y="406.8">83° E</text>
<text x="259.6" y="11.7">84° E</text><text x="259.6" y="406.8">84° E</text>
<text x="315.3" y="11.7">85° E</text><text x="315.3" y="406.8">85° E</text>
<text x="371.1" y="11.7">86° E</text><text x="371.1" y="406.8">86° E</text>
<text x="426.9" y="11.7">87° E</text><text x="426.9" y="406.8">87° E</text>
<text x="482.7" y="11.7">88° E</text><text x="482.7" y="406.8">88° E</text>
<text transform="translate(11.5 30.0) rotate(-90)">31° N</text><text transform="translate(543.0 30.0) rotate(-90)">31° N</text>
<text transform="translate(11.5 85.75) rotate(-90)">30° N</text><text transform="translate(543.0 85.75) rotate(-90)">30° N</text>
<text transform="translate(11.5 141.5) rotate(-90)">29° N</text><text transform="translate(543.0 141.5) rotate(-90)">29° N</text>
<text transform="translate(11.5 197.25) rotate(-90)">28° N</text><text transform="translate(543.0 197.25) rotate(-90)">28° N</text>
<text transform="translate(11.5 253.0) rotate(-90)">27° N</text><text transform="translate(543.0 253.0) rotate(-90)">27° N</text>
<text transform="translate(11.5 308.75) rotate(-90)">26° N</text><text transform="translate(543.0 308.75) rotate(-90)">26° N</text>
<text transform="translate(11.5 364.5) rotate(-90)">25° N</text><text transform="translate(543.0 364.5) rotate(-90)">25° N</text>
</g>
<text class="ser" font-size="12.65" text-anchor="middle" x="188.45" y="34">Spatial distribution of mean annual rainfall [mm]</text>
<text class="ser" font-size="12.65" text-anchor="middle" x="188.6" y="48.5">(1975 – 2015)</text>
<text class="san b" font-size="11.4" x="26.4" y="214.4">Legend</text>
<rect x="24.7" y="221.3" width="24.4" height="11.3" fill="#fff" stroke="#333" stroke-width="0.9"/>
<text class="san" font-size="8.5" x="53.7" y="229.9">Country Boundary</text>
<text class="san b" font-size="10.9" x="25.6" y="246.5">Annual Rainfall [mm]</text>
<rect x="21" y="252.2" width="22" height="10.8" fill="#22c322" stroke="#787878" stroke-width="0.8"/>
<text class="san" font-size="8" x="47.2" y="260.4">below 200</text>
<rect x="21" y="267.0" width="22" height="10.8" fill="#28c83a" stroke="#787878" stroke-width="0.8"/>
<text class="san" font-size="8" x="47.2" y="275.2">200–400</text>
<rect x="21" y="281.8" width="22" height="10.8" fill="#2ecf50" stroke="#787878" stroke-width="0.8"/>
<text class="san" font-size="8" x="47.2" y="290.0">400–600</text>
<rect x="21" y="296.6" width="22" height="10.8" fill="#34d468" stroke="#787878" stroke-width="0.8"/>
<text class="san" font-size="8" x="47.2" y="304.8">600–800</text>
<rect x="21" y="311.4" width="22" height="10.8" fill="#36dc80" stroke="#787878" stroke-width="0.8"/>
<text class="san" font-size="8" x="47.2" y="319.6">800–1000</text>
<rect x="21" y="326.2" width="22" height="10.8" fill="#38e49c" stroke="#787878" stroke-width="0.8"/>
<text class="san" font-size="8" x="47.2" y="334.4">1000–1200</text>
<rect x="21" y="341.0" width="22" height="10.8" fill="#30e8b8" stroke="#787878" stroke-width="0.8"/>
<text class="san" font-size="8" x="47.2" y="349.2">1200–1400</text>
<rect x="21" y="355.8" width="22" height="10.8" fill="#20f0d8" stroke="#787878" stroke-width="0.8"/>
<text class="san" font-size="8" x="47.2" y="364.0">1400–1600</text>
<rect x="21" y="370.6" width="22" height="10.8" fill="#04f4f8" stroke="#787878" stroke-width="0.8"/>
<text class="san" font-size="8" x="47.2" y="378.8">1600–1800</text>
<rect x="91.7" y="254.3" width="22" height="10.8" fill="#28d8f8" stroke="#787878" stroke-width="0.8"/>
<text class="san" font-size="8" x="117.6" y="262.5">1800–2000</text>
<rect x="91.7" y="269.3" width="22" height="10.8" fill="#30b4f0" stroke="#787878" stroke-width="0.8"/>
<text class="san" font-size="8" x="117.6" y="277.5">2000–2500</text>
<rect x="91.7" y="284.3" width="22" height="10.8" fill="#3098f0" stroke="#787878" stroke-width="0.8"/>
<text class="san" font-size="8" x="117.6" y="292.5">2500–3000</text>
<rect x="91.7" y="299.3" width="22" height="10.8" fill="#3078e8" stroke="#787878" stroke-width="0.8"/>
<text class="san" font-size="8" x="117.6" y="307.5">3000–3500</text>
<rect x="91.7" y="314.3" width="22" height="10.8" fill="#3060e0" stroke="#787878" stroke-width="0.8"/>
<text class="san" font-size="8" x="117.6" y="322.5">3500–4000</text>
<rect x="91.7" y="329.3" width="22" height="10.8" fill="#2848e0" stroke="#787878" stroke-width="0.8"/>
<text class="san" font-size="8" x="117.6" y="337.5">4000–4500</text>
<rect x="91.7" y="344.3" width="22" height="10.8" fill="#1830e0" stroke="#787878" stroke-width="0.8"/>
<text class="san" font-size="8" x="117.6" y="352.5">4500–5000</text>
<rect x="91.7" y="359.3" width="22" height="10.8" fill="#0010e0" stroke="#787878" stroke-width="0.8"/>
<text class="san" font-size="8" x="117.6" y="367.5">more than 5000</text>
<path d="M187.3,373V366H338.2V373 M237.7,366V373 M288.1,366V373 M204.1,366V370.6 M220.8,366V370.6 M254.4,366V370.6 M271.1,366V370.6 M304.7,366V370.6 M321.5,366V370.6" fill="none" stroke="#222" stroke-width="0.9"/>
<g class="san" font-size="10" text-anchor="middle"><text x="187.3" y="386.4">0</text><text x="237.7" y="386.4">100</text><text x="288.1" y="386.4">200</text><text x="329.6" y="386.4" text-anchor="start">300 Km</text></g>
<rect x="354.3" y="308.8" width="26.8" height="13" fill="#22a838"/>
<text class="san" font-size="9.7" x="386.5" y="318.7">Province 1</text>
<rect x="354.3" y="327.1" width="26.8" height="13" fill="#b6d234"/>
<text class="san" font-size="9.7" x="386.5" y="337.0">Madhesh</text>
<rect x="354.3" y="345.3" width="26.8" height="13" fill="#40b8a2"/>
<text class="san" font-size="9.7" x="386.5" y="355.2">Bagmati</text>
<rect x="434.1" y="309.5" width="26.8" height="13" fill="#3222c4"/>
<text class="san" font-size="9.7" x="465.2" y="319.4">Gandaki</text>
<rect x="434.1" y="327.8" width="26.8" height="13" fill="#2a5ab0"/>
<text class="san" font-size="9.7" x="465.2" y="337.7">Lumbini</text>
<rect x="434.1" y="346.8" width="26.8" height="13" fill="#a84a2a"/>
<text class="san" font-size="9.7" x="465.2" y="356.7">Karnali</text>
<rect x="434.1" y="365.8" width="26.8" height="13" fill="#d22cc4"/>
<text class="san" font-size="9.7" x="465.2" y="375.7">Sudurpaschim</text>
</svg></body></html>
